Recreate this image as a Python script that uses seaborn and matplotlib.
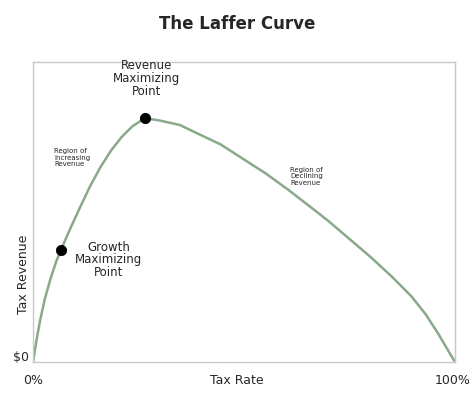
import matplotlib
matplotlib.use("Agg")
import matplotlib.pyplot as plt
import seaborn as sns
import pandas as pd

tax_rate = [0, 0.8, 1.7, 2.8, 4.2, 5.5, 6.6, 9, 11.3, 13.5, 16, 18.5, 21, 23.5, 26.5,
            30, 34.8, 40, 44.5, 50, 55, 60.4, 65, 70, 75, 80, 85, 89.6, 93, 96, 98.3, 100]
revenue = [0, 7, 14, 21, 28, 33.5, 37.3, 45, 52, 58.5, 65, 70.5, 75, 78.5, 81.3,
           80.5, 79, 75.5, 72.5, 67.5, 63, 57.5, 52.5, 47, 41, 35, 28.5, 22, 16, 9.5, 4, 0]
points_x = [6.6, 26.5]
points_y = [37.3, 81.3]

df = pd.DataFrame({"x": tax_rate, "y": revenue})
sns.set_style("white")
fig = plt.figure(figsize=(4.74, 4.15), dpi=100)
ax = fig.add_axes([33/474, 53/415, 422/474, 300/415])
sns.lineplot(data=df, x="x", y="y", ax=ax, color="#8aa88a", lw=1.8)
sns.scatterplot(x=points_x, y=points_y, ax=ax, color="black", s=55, zorder=5, edgecolor="black")
ax.set_xlim(0, 100); ax.set_ylim(0, 100)
ax.set_xticks([]); ax.set_yticks([])
ax.set_xlabel(""); ax.set_ylabel("")
for s in ax.spines.values():
    s.set_color("#c8c8c8"); s.set_linewidth(1)
fig.text(0.5, 0.93, "The Laffer Curve", ha="center", fontsize=12, fontweight="bold")
fig.text(0.5, 0.075, "Tax Rate", ha="center", fontsize=9)
fig.text(0.035, 0.34, "Tax Revenue", rotation=90, va="center", fontsize=9)
fig.text(0.045, 0.13, "$0", ha="center", fontsize=9)
fig.text(0.07, 0.075, "0%", ha="center", fontsize=9)
fig.text(0.955, 0.075, "100%", ha="center", fontsize=9)
ax.text(27, 88, "Revenue\nMaximizing\nPoint", ha="center", va="bottom", fontsize=8.5, linespacing=1.0)
ax.text(18, 34, "Growth\nMaximizing\nPoint", ha="center", va="center", fontsize=8.5, linespacing=1.0)
ax.text(5, 68, "Region of\nIncreasing\nRevenue", ha="left", va="center", fontsize=5, linespacing=1.1)
ax.text(61, 62, "Region of\nDeclining\nRevenue", ha="left", va="center", fontsize=5, linespacing=1.1)
fig.savefig("out.png", dpi=100)
